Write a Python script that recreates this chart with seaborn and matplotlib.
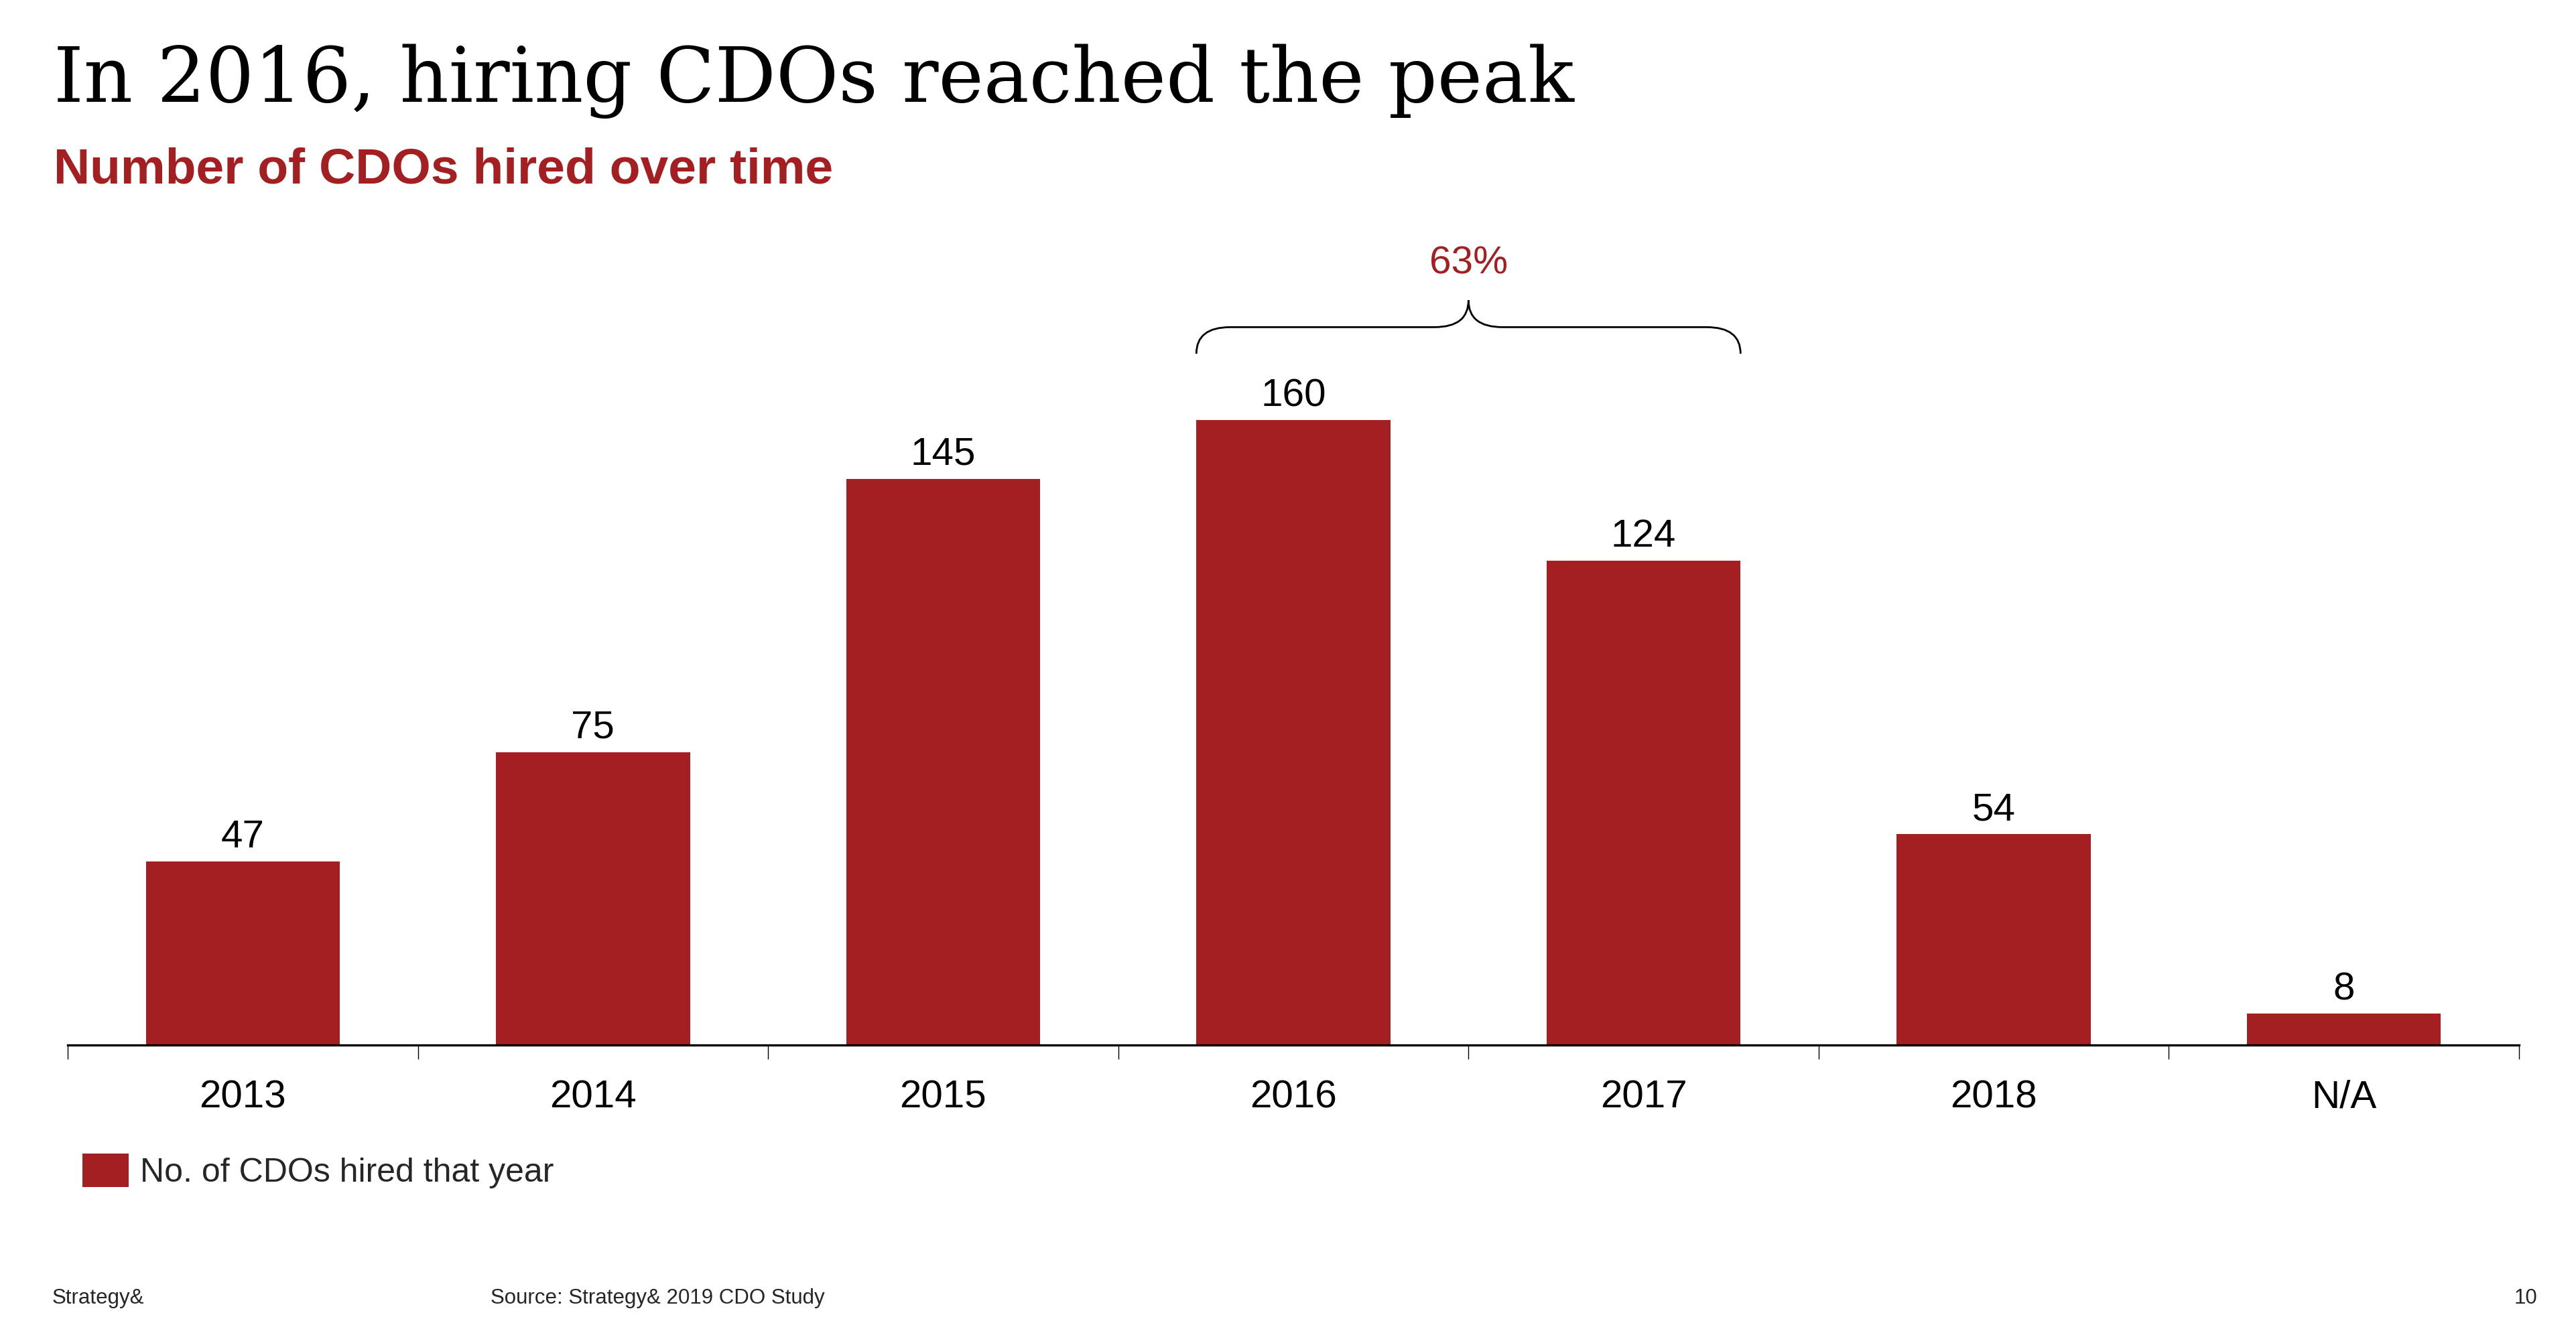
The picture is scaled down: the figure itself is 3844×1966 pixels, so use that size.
import matplotlib
matplotlib.use("Agg")
import matplotlib.pyplot as plt
from matplotlib.path import Path
from matplotlib.patches import PathPatch, Patch
import seaborn as sns
import pandas as pd

# ---- data ----
years = ["2013", "2014", "2015", "2016", "2017", "2018", "N/A"]
hired = [47, 75, 145, 160, 124, 54, 8]
peak_share = "63%"
title = "In 2016, hiring CDOs reached the peak"
subtitle = "Number of CDOs hired over time"
legend_label = "No. of CDOs hired that year"
footer_left = "Strategy&"
footer_source = "Source: Strategy& 2019 CDO Study"
page_no = "10"

RED = "#A31F22"
W, H = 3844, 1966

sns.set_theme(style="white")
plt.rcParams["font.family"] = ["Liberation Sans", "DejaVu Sans"]


def fx(px):
    return px / W


def fy(py):
    return 1 - py / H


fig = plt.figure(figsize=(W / 100, H / 100), dpi=100)
fig.patch.set_facecolor("white")

# axes box: baseline at y=1560px, 230 units tall
ax = fig.add_axes([fx(101), fy(1560), fx(3759) - fx(101), (1560 - 219) / H])
df = pd.DataFrame({"year": years, "hired": hired})
sns.barplot(data=df, x="year", y="hired", color=RED, saturation=1,
            width=0.554, linewidth=0, ax=ax)

ax.set_xlim(-0.5, len(years) - 0.5)
ax.set_ylim(0, 230)
ax.set_xlabel("")
ax.set_ylabel("")
ax.set_yticks([])
for s in ["top", "left", "right"]:
    ax.spines[s].set_visible(False)
ax.spines["bottom"].set_color("black")
ax.spines["bottom"].set_linewidth(2.4)
ax.set_facecolor("white")

# ticks sit between the categories
ax.set_xticks([i - 0.5 for i in range(len(years) + 1)], minor=True)
ax.tick_params(axis="x", which="major", length=0, labelsize=42, pad=37,
               labelcolor="black")
ax.tick_params(axis="x", which="minor", length=15, width=1, color="black",
               direction="out", bottom=True)

# value labels
for i, v in enumerate(hired):
    ax.text(i, v + 3.6, str(v), ha="center", va="baseline", fontsize=42,
            color="black")

# curly brace over 2016-2017
half = 0.554 / 2
x0, x1 = years.index("2016") - half, years.index("2017") + half
xc = (x0 + x1) / 2
y_end, y_h, y_top = 177, 183.8, 190.7
r = 0.097
verts = [
    (x0, y_end), (x0, y_h), (x0 + r, y_h),
    (xc - r, y_h),
    (xc, y_h), (xc, y_top),
    (xc, y_h), (xc + r, y_h),
    (x1 - r, y_h),
    (x1, y_h), (x1, y_end),
]
codes = [Path.MOVETO, Path.CURVE3, Path.CURVE3,
         Path.LINETO,
         Path.CURVE3, Path.CURVE3,
         Path.CURVE3, Path.CURVE3,
         Path.LINETO,
         Path.CURVE3, Path.CURVE3]
ax.add_patch(PathPatch(Path(verts, codes), facecolor="none",
                       edgecolor="black", lw=2, clip_on=False))
ax.text(xc, 197.5, peak_share, ha="center", va="baseline", fontsize=42,
        color=RED)

# headings
fig.text(fx(80), fy(152), title, family=["DejaVu Serif"], fontsize=82,
         va="baseline", ha="left", color="black")
fig.text(fx(80), fy(273), subtitle, fontsize=54, fontweight="bold",
         va="baseline", ha="left", color=RED)

# legend
fig.legend(handles=[Patch(facecolor=RED, edgecolor="none", label=legend_label)],
           loc="upper left", bbox_to_anchor=(fx(123), fy(1722)),
           frameon=False, fontsize=36, handlelength=1.38, handleheight=1.15,
           handletextpad=0.34, borderpad=0, borderaxespad=0)

# footer
fig.text(fx(78), fy(1946), footer_left, fontsize=22.5, va="baseline")
fig.text(fx(732), fy(1946), footer_source, fontsize=22.5, va="baseline")
fig.text(fx(3786), fy(1946), page_no, fontsize=22.5, va="baseline", ha="right")

fig.savefig("out.png", dpi=100, facecolor="white")
